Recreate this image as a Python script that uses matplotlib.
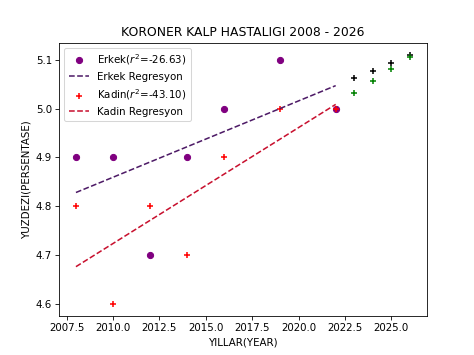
import numpy as np
import matplotlib
matplotlib.use("Agg")
import matplotlib.pyplot as plt

# observed values
years = np.array([2008, 2010, 2012, 2014, 2016, 2019, 2022])
erkek = np.array([4.9, 4.9, 4.7, 4.9, 5.0, 5.1, 5.0])
kadin = np.array([4.8, 4.6, 4.8, 4.7, 4.9, 5.0, 5.0])

# forecast points
yearsFuture = np.array([2023, 2024, 2025, 2026])
erkekFuture = np.array([5.063, 5.078, 5.094, 5.110])
kadinFuture = np.array([5.033, 5.057, 5.081, 5.105])

erkekLabel = r"Erkek($r^2$=-26.63)"
kadinLabel = r"Kadin($r^2$=-43.10)"

fig, ax = plt.subplots(figsize=(474/74, 355/74), dpi=74)

## regression lines over observed years
pE = np.polyfit(years, erkek, 1)
pK = np.polyfit(years, kadin, 1)

ax.scatter(years, erkek, color='purple', label=erkekLabel)
ax.plot(years, np.polyval(pE, years), '--', color='#4d1a66', label='Erkek Regresyon')
ax.scatter(years, kadin, color='red', marker='+', label=kadinLabel)
ax.plot(years, np.polyval(pK, years), '--', color='#c8102e', label='Kadin Regresyon')

ax.scatter(yearsFuture, erkekFuture, color='black', marker='+')
ax.scatter(yearsFuture, kadinFuture, color='green', marker='+')

ax.set_title("KORONER KALP HASTALIGI 2008 - 2026")
ax.set_xlabel("YILLAR(YEAR)")
ax.set_ylabel("YUZDEZI(PERSENTASE)")
ax.legend(loc='upper left')

fig.savefig("out.png", dpi=74)
